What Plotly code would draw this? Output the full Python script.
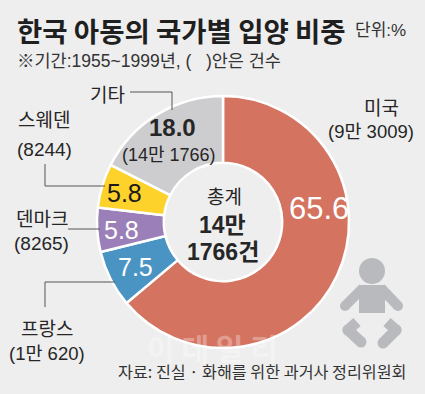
import numpy as np
import plotly.graph_objects as go

W, H = 425, 394
categories = ["미국", "프랑스", "덴마크", "스웨덴", "기타"]
shares = [65.6, 7.5, 5.8, 5.8, 18.0]
share_labels = ["65.6", "7.5", "5.8", "5.8", "18.0"]
count_labels = ["(9만 3009)", "(1만 620)", "(8265)", "(8244)", "(14만 1766)"]
colors = ["#d47360", "#4a94c4", "#9b7fb8", "#fdd22b", "#cdcdd0"]
BG = "#eeeeee"
KR = "'Noto Sans CJK KR', sans-serif"
NUM = "'Liberation Sans', 'Noto Sans CJK KR', sans-serif"
INK = "#262626"

def fx(x): return x / W
def fy(y): return 1 - y / H

fig = go.Figure(go.Pie(
    values=shares, labels=categories, hole=0.47, sort=False, direction="clockwise", rotation=0,
    marker=dict(colors=colors, line=dict(color="#ffffff", width=2.5)),
    textinfo="none", hoverinfo="label+value", showlegend=False,
    domain=dict(x=[fx(223 - 126), fx(223 + 126)], y=[fy(222 + 126), fy(222 - 126)]),
))

ann = []
def T(text, x, y, size, color=INK, anchor="center", family=KR, bold=False, opacity=1):
    ann.append(dict(text=f"<b>{text}</b>" if bold else text, x=fx(x), y=fy(y), xref="paper", yref="paper",
                    xanchor=anchor, yanchor="middle", showarrow=False, opacity=opacity,
                    font=dict(size=size, color=color, family=family)))

T("이 데 일 리", 212, 347, 30, "#ffffff", bold=True, opacity=0.3)
T("한국 아동의 국가별 입양 비중", 15, 30, 27.5, "#1f1f1f", "left", bold=True)
T("단위:%", 353, 31, 17, "#333333", "left", family=NUM)
T("※기간:1955~1999년, (   )안은 건수", 15, 61, 17.5, "#333333", "left", family=NUM)
T(categories[4], 108, 93, 19)
T(share_labels[4], 172, 127, 24, family=NUM, bold=True)
T(count_labels[4], 169, 155, 18, family=NUM)
T(categories[0], 381, 106, 19)
T(count_labels[0], 371, 131, 18.5, family=NUM)
T(categories[3], 44, 119, 19)
T(count_labels[3], 44, 150, 19, family=NUM)
T(categories[2], 42, 217, 19)
T(count_labels[2], 41, 243, 19, family=NUM)
T(categories[1], 47, 327, 19)
T(count_labels[1], 47, 353, 18.5, family=NUM)
T(share_labels[3], 124, 193, 25, "#1a1a1a", family=NUM)
T(share_labels[2], 121, 230, 25, "#ffffff", family=NUM)
T(share_labels[1], 135, 267, 25, "#ffffff", family=NUM)
T(share_labels[0], 319, 208, 31, "#ffffff", family=NUM)
T("총계", 224, 196, 19)
T("14만", 223, 225, 23, family=NUM, bold=True)
T("1766건", 223, 252, 23, family=NUM, bold=True)
T("자료: 진실 · 화해를 위한 과거사 정리위원회", 409, 371, 16.2, "#333333", "right")

shapes = []
def leader(points):
    d = "M" + " L".join(f"{fx(x):.5f},{fy(y):.5f}" for x, y in points)
    shapes.append(dict(type="path", path=d, xref="paper", yref="paper", line=dict(color="#555555", width=1)))
leader([(130, 92), (172, 92), (172, 110)])
leader([(45, 164), (45, 186), (105, 186)])
leader([(68, 229), (100, 229)])
leader([(45, 307), (45, 282), (115, 282)])

ICON = "#b9babd"
def poly(points):
    d = "M" + " L".join(f"{fx(x):.5f},{fy(y):.5f}" for x, y in points) + " Z"
    shapes.append(dict(type="path", path=d, xref="paper", yref="paper", fillcolor=ICON, line=dict(width=0)))
def disc(x, y, r):
    shapes.append(dict(type="circle", xref="paper", yref="paper", x0=fx(x - r), x1=fx(x + r),
                       y0=fy(y + r), y1=fy(y - r), fillcolor=ICON, line=dict(width=0)))
def capsule(a, b, w, cap_a=True, cap_b=True):
    a, b = np.array(a, float), np.array(b, float)
    n = (b - a)[::-1] * [1, -1] / np.hypot(*(b - a)) * w / 2
    poly([a + n, b + n, b - n, a - n])
    if cap_a: disc(*a, w / 2)
    if cap_b: disc(*b, w / 2)

disc(372, 271, 13)
poly([(359, 285), (385, 285), (385, 313), (359, 313)])
capsule((363, 288), (345, 306), 10, cap_a=False)
capsule((381, 288), (398, 306), 10, cap_a=False)
capsule((357, 322), (348, 330), 11, cap_a=False)
capsule((348, 330), (361, 342), 11)
capsule((387, 322), (396, 330), 11, cap_a=False)
capsule((396, 330), (383, 343), 11)

fig.update_layout(width=W, height=H, margin=dict(l=0, r=0, t=0, b=0), paper_bgcolor=BG, plot_bgcolor=BG,
                  annotations=ann, shapes=shapes)
fig.write_html("out.html", config=dict(displayModeBar=False),
               post_script="document.body.style.margin='0';document.body.style.overflow='hidden';")
